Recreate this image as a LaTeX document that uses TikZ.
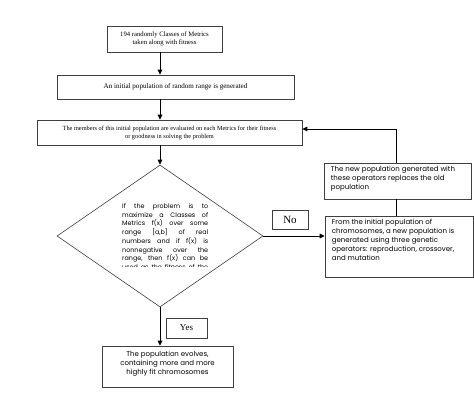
\documentclass[tikz,border=0pt]{standalone}
\usepackage{fontspec}
\setmainfont{Liberation Serif}
\newfontfamily\gothic{Poppins}
\usetikzlibrary{arrows.meta,shapes.geometric}
\tikzset{
  box/.style={draw=black!75, line width=0.6pt, inner sep=1pt, fill=white},
  serifs/.style={font=\fontsize{6.7}{8}\selectfont, align=center},
  goth/.style={font=\gothic\fontsize{7}{9}\selectfont},
  gothd/.style={font=\gothic\fontsize{6.4}{8.7}\selectfont},
  conn/.style={draw=black, line width=1pt},
  arr/.style={conn, -{Triangle[length=5pt,width=4.5pt]}},
  lab/.style={draw=black!75, line width=0.6pt, inner sep=0pt}
}
\begin{document}
\begin{tikzpicture}[x=1pt,y=-1pt]
\useasboundingbox[fill=white] (0,0) rectangle (474,420);
% boxes
\node[box, serifs, minimum width=115pt, minimum height=26pt] (b1) at (164.5,39)
  {194 randomly Classes of Metrics\\taken along with fitness};
\node[box, serifs, font=\fontsize{7.1}{8}\selectfont, minimum width=237pt, minimum height=24pt] (b2) at (175.5,87)
  {An initial population of random range is generated};
\node[box, serifs, font=\fontsize{6.3}{8}\selectfont, minimum width=265pt, minimum height=25pt] (b3) at (169.5,132.5)
  {The members of this initial population are evaluated on each Metrics for their fitness\\or goodness in solving the problem};
\node[draw=black!75, line width=0.6pt, diamond, inner sep=0pt, minimum width=206pt, minimum height=142pt] (d) at (160,236) {};
\node[box, minimum width=147pt, minimum height=36pt] (b4) at (397.5,181) {};
\node[box, minimum width=148pt, minimum height=61pt] (b5) at (399,246.5) {};
\node[box, minimum width=131pt, minimum height=41pt] (b6) at (167.5,366.5) {};
\node[lab, minimum width=36pt, minimum height=19pt, font=\fontsize{11}{12}\selectfont] (no) at (290,219.5) {No};
\node[lab, minimum width=41pt, minimum height=20pt, font=\fontsize{9}{10}\selectfont] (yes) at (186.5,328) {Yes};
% texts in boxes
\node[goth, anchor=north west, inner sep=0pt, align=left] (t4) at ([xshift=7pt,yshift=-3.5pt]b4.north west)
  {The new population generated with\\these operators replaces the old\\population};
\node[goth, anchor=north west, inner sep=0pt, align=left] (t5) at ([xshift=7pt,yshift=-3pt]b5.north west)
  {From the initial population of\\chromosomes, a new population is\\generated using three genetic\\operators: reproduction, crossover,\\and mutation};
\node[goth, inner sep=0pt, align=center] (t6) at ([yshift=3pt]b6.center)
  {The population evolves,\\containing more and more\\highly fit chromosomes};
\begin{scope}
  \clip (110,198) rectangle (215,266.3);
  \node[gothd, anchor=north west, inner sep=0pt, text width=86pt, align=justify] (td) at (122,203.5)
  {If the problem is to\linebreak maximize a Classes of\linebreak Metrics f(x) over some\linebreak range [a,b] of real\linebreak numbers and if f(x) is\linebreak nonnegative over the\linebreak range, then f(x) can be\linebreak used as the fitness of the\linebreak};
\end{scope}
% connectors
\draw[arr] (b1.south -| d.north) -- (b2.north -| d.north);
\draw[arr] (b2.south -| d.north) -- (b3.north -| d.north);
\draw[arr] (b3.south -| d.north) -- (d.north);
\draw[arr] (d.south) -- (d.south |- b6.north);
\draw[arr] (d.east) -- (d.east -| b5.west);
\coordinate (c) at (396,129);
\draw[conn] (b5.north -| c) -- (b4.south -| c);
\draw[arr] (b4.north -| c) -- (c) -- (c -| b3.east);
\end{tikzpicture}
\end{document}
